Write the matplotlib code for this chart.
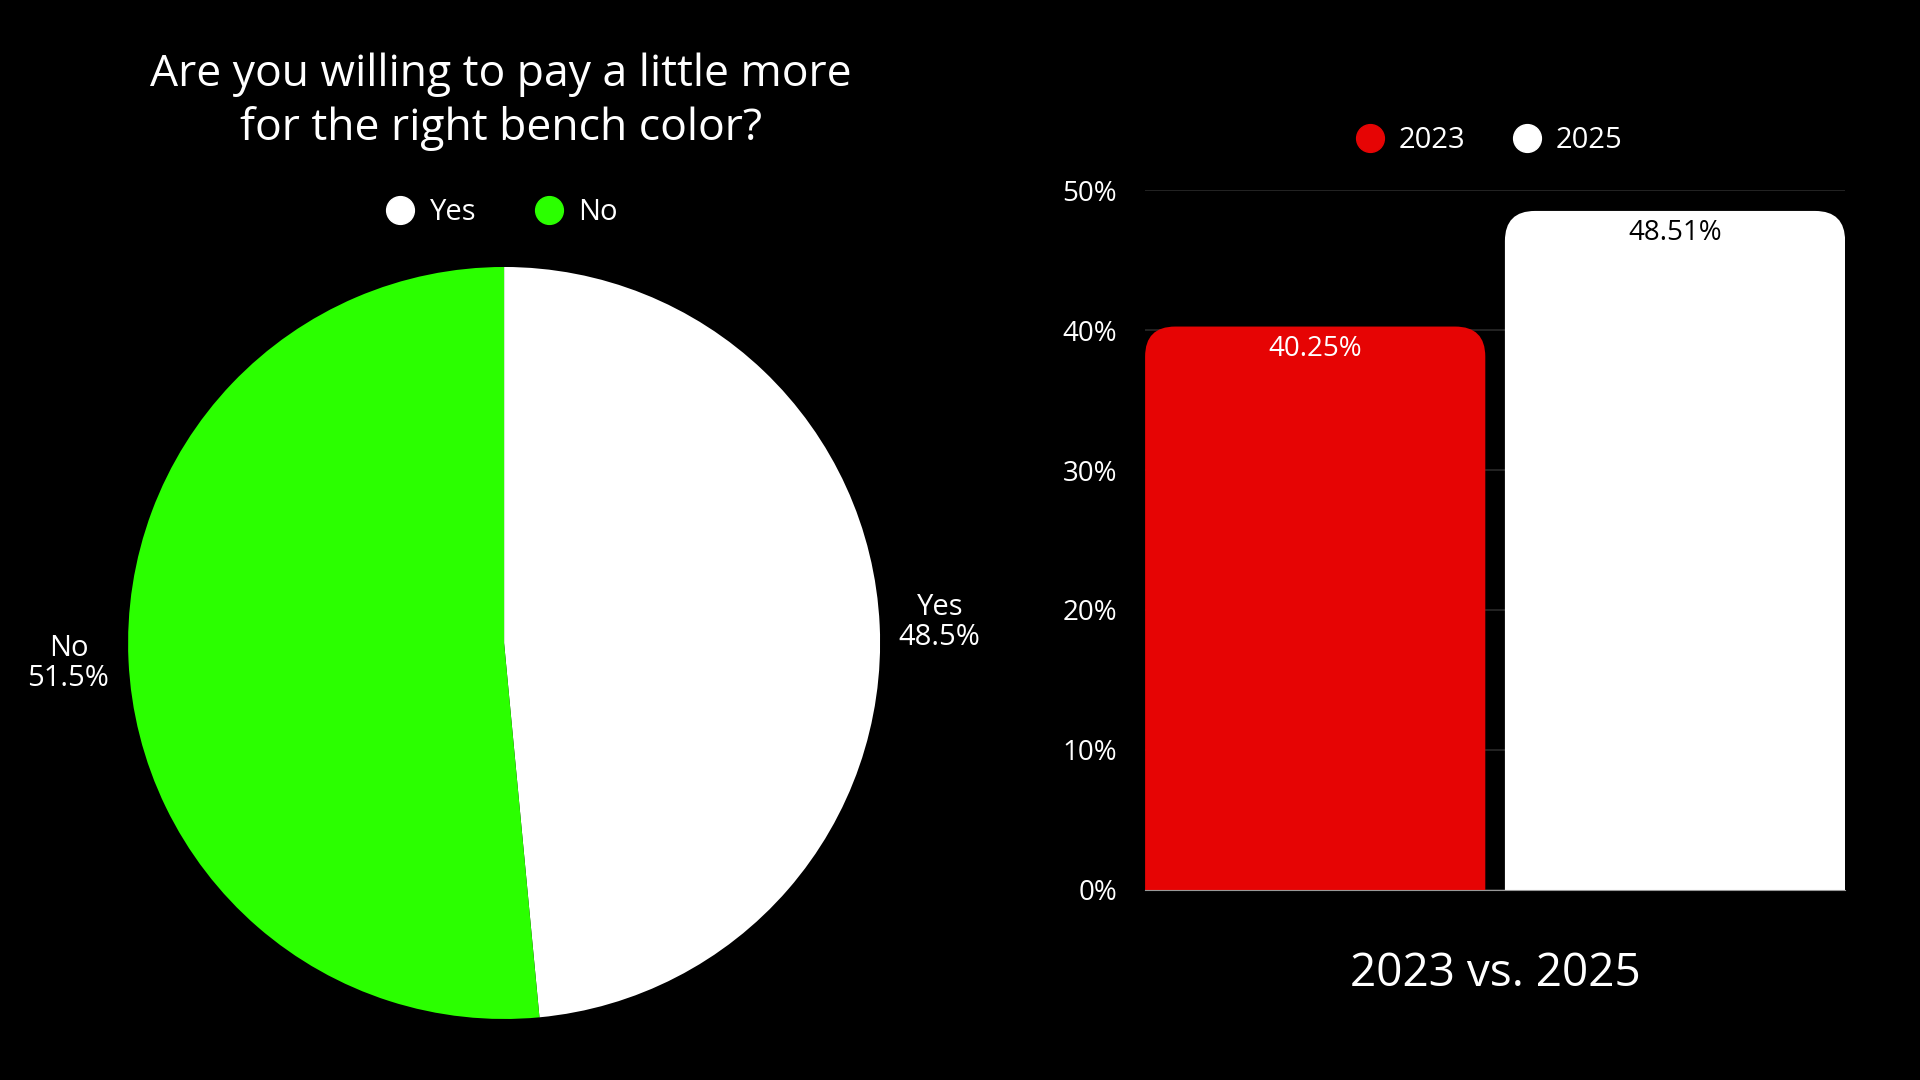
import matplotlib
matplotlib.use("Agg")
import matplotlib.pyplot as plt
from matplotlib.lines import Line2D
from matplotlib.patches import FancyBboxPatch
from matplotlib.ticker import PercentFormatter

# pie data
PIE_LABELS = ["Yes", "No"]
PIE_VALUES = [48.5, 51.5]
PIE_COLORS = ["#FFFFFF", "#2BFF00"]

# bar data
YEARS = ["2023", "2025"]
YEAR_VALUES = [40.25, 48.51]
YEAR_COLORS = ["#E60404", "#FFFFFF"]
YEAR_TEXT = ["white", "black"]

plt.rcParams["font.family"] = ["Open Sans", "DejaVu Sans"]

fig = plt.figure(figsize=(19.2, 10.8), dpi=100, facecolor="black")

# === Left: pie ===
ax1 = fig.add_axes([0.0667, 0.0565, 0.3917, 0.6963])
ax1.set_facecolor("black")
wedges, texts = ax1.pie(
    PIE_VALUES, colors=PIE_COLORS, startangle=90, counterclock=False,
    labels=[f"{l}\n{v}%" for l, v in zip(PIE_LABELS, PIE_VALUES)],
    labeldistance=1.16, textprops=dict(color="white", fontsize=21, linespacing=1.05),
    wedgeprops=dict(linewidth=0),
)
for t in texts:
    t.set_ha("center")
    t.set_va("center")
ax1.set_xlim(-1, 1)
ax1.set_ylim(-1, 1)
ax1.set_aspect("equal")

fig.text(0.261, 0.906, "Are you willing to pay a little more\nfor the right bench color?",
         ha="center", va="center", color="white", fontsize=32, linespacing=1.26)

pie_handles = [Line2D([], [], marker="o", linestyle="", markersize=20,
                      markerfacecolor=c, markeredgecolor=c) for c in PIE_COLORS]
fig.legend(pie_handles, PIE_LABELS, loc="center", bbox_to_anchor=(0.2605, 0.803),
           ncol=2, frameon=False, labelcolor="white", fontsize=21,
           handlelength=1.2, handletextpad=0.4, columnspacing=1.9)

# === Right: bars ===
ax2 = fig.add_axes([0.5964, 0.176, 0.3646, 0.648])
ax2.set_facecolor("black")
offsets = [-0.257, 0.257]
width = 0.486
bars = ax2.bar(offsets, YEAR_VALUES, width=width, color=YEAR_COLORS, label=YEARS)
for bar, col in zip(bars, YEAR_COLORS):
    bar.set_visible(False)
    x, w, h = bar.get_x(), bar.get_width(), bar.get_height()
    patch = FancyBboxPatch((x, -5), w, h + 5,
                           boxstyle="round,pad=0,rounding_size=0.043",
                           mutation_aspect=50, facecolor=col, edgecolor="none",
                           zorder=3, clip_on=True)
    ax2.add_patch(patch)

for off, v, tc in zip(offsets, YEAR_VALUES, YEAR_TEXT):
    ax2.text(off, v - 0.6, f"{v:.2f}%", ha="center", va="top", color=tc,
             fontsize=20, zorder=4)

ax2.set_xlim(-0.5, 0.5)
ax2.set_ylim(0, 50)
ax2.set_yticks([0, 10, 20, 30, 40, 50])
ax2.yaxis.set_major_formatter(PercentFormatter(decimals=0))
ax2.set_xticks([])
ax2.tick_params(axis="y", colors="white", labelsize=20, length=0, pad=20)
ax2.grid(True, axis="y", color="#2a2a2a", linewidth=1.2, zorder=0)
ax2.set_axisbelow(True)
for s in ["top", "right", "left"]:
    ax2.spines[s].set_visible(False)
ax2.spines["bottom"].set_color("#999999")
ax2.spines["bottom"].set_zorder(5)
ax2.set_xlabel("2023 vs. 2025", color="white", fontsize=33, labelpad=44)

bar_handles = [Line2D([], [], marker="o", linestyle="", markersize=20,
                      markerfacecolor=c, markeredgecolor=c) for c in YEAR_COLORS]
fig.legend(bar_handles, YEARS, loc="center", bbox_to_anchor=(0.7748, 0.87),
           ncol=2, frameon=False, labelcolor="white", fontsize=21,
           handlelength=1.2, handletextpad=0.4, columnspacing=1.5)

fig.savefig("out.png", dpi=100, facecolor="black")
